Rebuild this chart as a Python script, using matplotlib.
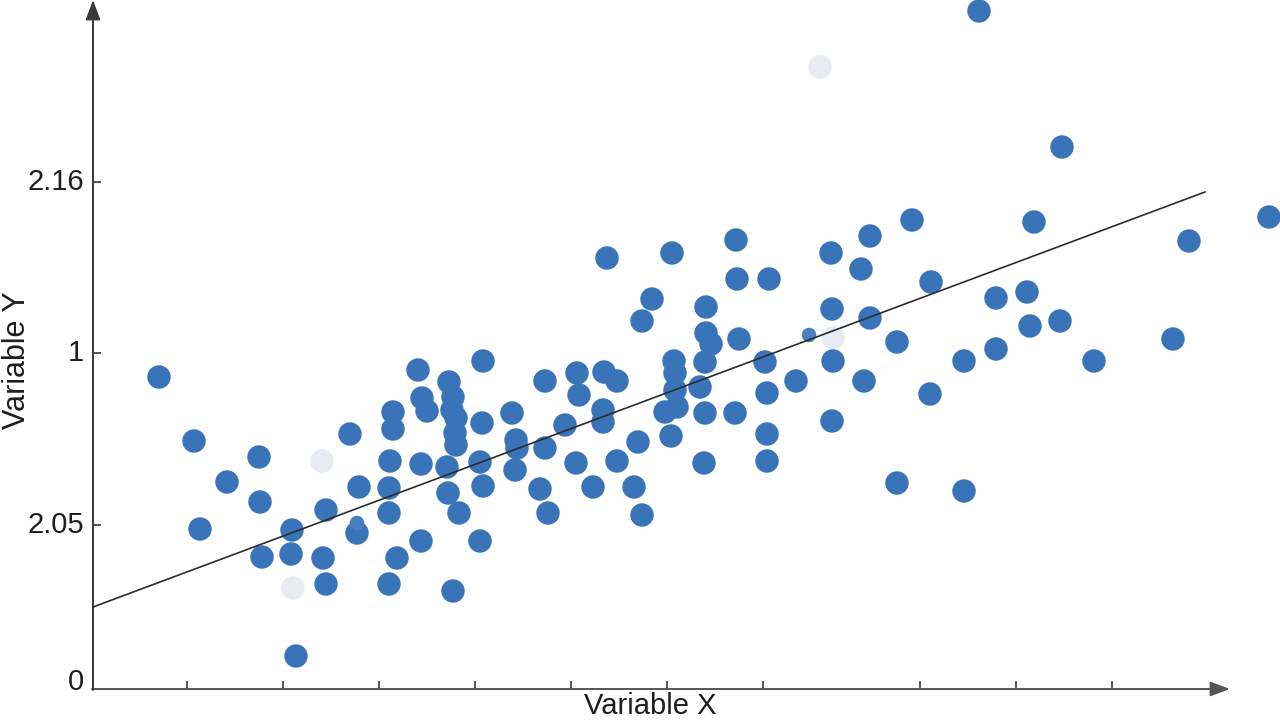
import matplotlib
matplotlib.use("Agg")
import matplotlib.pyplot as plt

plt.rcParams['font.family'] = ['Liberation Sans', 'DejaVu Sans']

# point positions (figure units, origin bottom-left)
x_vals = [159, 194, 200, 227, 259, 260, 262, 291, 292, 296, 323, 326, 326, 350, 359,
          357, 389, 389, 389, 390, 393, 393, 397, 418, 422, 427, 421, 421, 453, 449,
          453, 452, 456, 455, 456, 447, 448, 459, 483, 482, 480, 483, 480, 512, 516,
          517, 515, 545, 540, 548, 545, 565, 576, 577, 579, 593, 604, 617, 603, 603,
          617, 634, 638, 642, 642, 652, 607, 672, 671, 674, 675, 675, 677, 665, 700,
          705, 706, 706, 711, 704, 705, 735, 736, 737, 739, 765, 767, 767, 767, 769,
          796, 831, 832, 833, 832, 861, 864, 870, 870, 897, 897, 912, 931, 930, 964,
          964, 979, 996, 996, 1027, 1030, 1034, 1060, 1062, 1094, 1173, 1189, 1269]
y_vals = [343, 279, 191, 238, 263, 218, 163, 166, 190, 64, 162, 136, 210, 286, 233,
          187, 136, 207, 232, 259, 291, 308, 162, 350, 322, 309, 179, 256, 129, 338,
          323, 310, 302, 287, 275, 253, 227, 207, 359, 297, 258, 234, 179, 307, 280,
          272, 250, 272, 231, 207, 339, 295, 257, 347, 325, 233, 348, 339, 310, 298,
          259, 233, 278, 205, 399, 421, 462, 467, 284, 359, 347, 330, 313, 308, 333,
          358, 413, 387, 376, 257, 307, 307, 480, 441, 381, 358, 327, 286, 259, 441,
          339, 467, 411, 359, 299, 451, 339, 484, 402, 378, 237, 500, 438, 326, 359,
          229, 709, 422, 371, 428, 394, 498, 399, 573, 359, 381, 479, 503]

# small / partly hidden points
small_x = [809, 357]
small_y = [385, 197]

# very faint points
faint_x = [820, 322, 293, 833]
faint_y = [653, 259, 132, 382]

# fitted trend line end points
fit_x = [93, 1205]
fit_y = [113, 528]

x_ticks = [187, 283, 379, 475, 571, 667, 763, 920, 1016, 1112]
y_ticks = [538, 367, 195, 38]
y_tick_labels = ['2.16', '1', '2.05', '0']

fig = plt.figure(figsize=(12.8, 7.2), dpi=100)
ax = fig.add_axes([0, 0, 1, 1])
ax.set_xlim(0, 1280)
ax.set_ylim(0, 720)
ax.axis('off')

axis_col = '#555555'
blue = '#3a74b8'

ax.scatter(faint_x, faint_y, s=290, color='#e8ecf2', edgecolors='none', zorder=2)
ax.scatter(x_vals, y_vals, s=285, color=blue, edgecolors='none', zorder=3)
ax.scatter(small_x, small_y, s=110, color='#4a80c0', edgecolors='none', zorder=3)
ax.plot(fit_x, fit_y, color='#2b2b2b', lw=1.2, zorder=4)

# axes with arrow heads
ax.annotate('', xy=(1230, 31), xytext=(92, 31), annotation_clip=False,
            arrowprops=dict(arrowstyle='-|>,head_length=1.2,head_width=0.45',
                            color=axis_col, lw=1.4, shrinkA=0, shrinkB=0))
ax.annotate('', xy=(93, 720), xytext=(93, 30), annotation_clip=False,
            arrowprops=dict(arrowstyle='-|>,head_length=1.2,head_width=0.45',
                            color='#3a3a3a', lw=1.4, shrinkA=0, shrinkB=0))

ax.vlines(x_ticks, 31, 39, color=axis_col, lw=1.4)
ax.hlines(y_ticks[:3], 93, 101, color=axis_col, lw=1.4)

for yt, lab in zip(y_ticks, y_tick_labels):
    ax.text(84, yt, lab, ha='right', va='center', fontsize=21, color='#1e1e1e')

ax.text(650, 6, 'Variable X', ha='center', va='baseline', fontsize=21, color='#1e1e1e')
ax.text(17, 360, 'Variable Y', ha='center', va='center', rotation=90,
        fontsize=22, color='#1e1e1e')

fig.savefig('out.png', dpi=100)
